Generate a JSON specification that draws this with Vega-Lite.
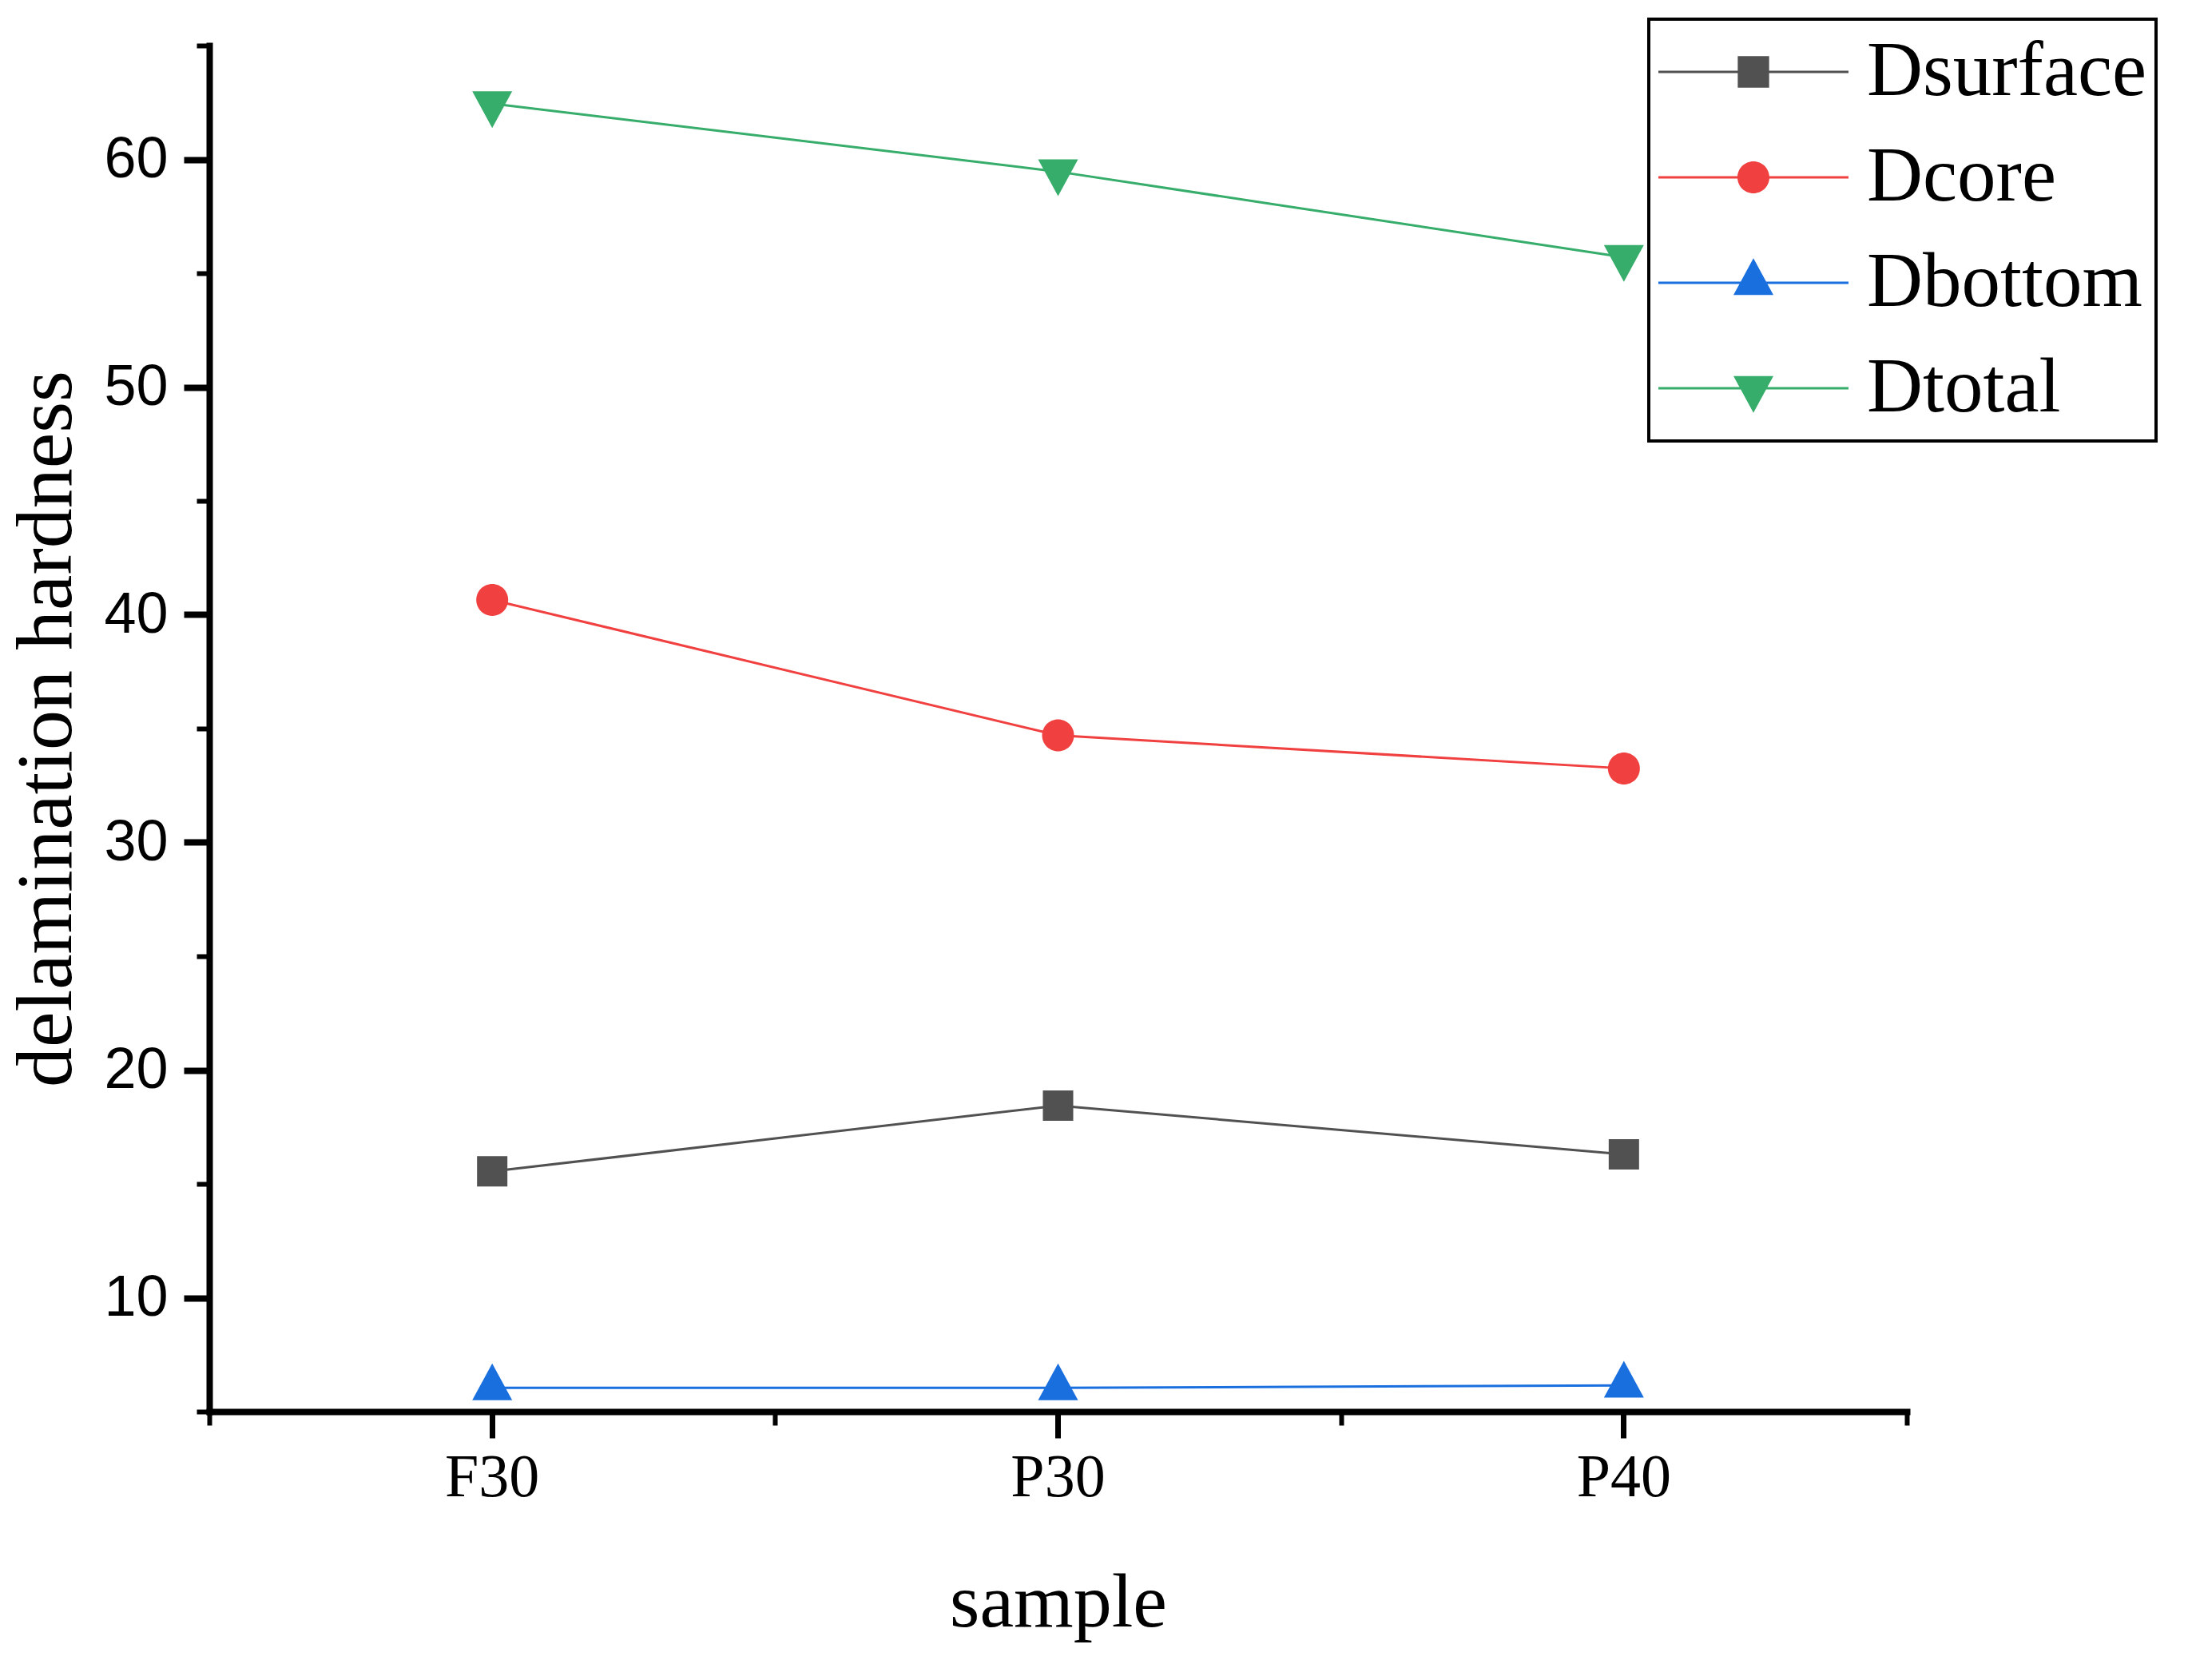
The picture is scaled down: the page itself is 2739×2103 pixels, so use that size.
{
  "$schema": "https://vega.github.io/schema/vega-lite/v6.json",
  "width": 2125,
  "height": 1710,
  "autosize": "none",
  "padding": {"left": 262, "top": 57, "right": 352, "bottom": 336},
  "background": "white",
  "data": {
    "values": [
      {"sample": "F30", "series": "Dsurface", "value": 15.55},
      {"sample": "P30", "series": "Dsurface", "value": 18.44},
      {"sample": "P40", "series": "Dsurface", "value": 16.3},
      {"sample": "F30", "series": "Dcore", "value": 40.65},
      {"sample": "P30", "series": "Dcore", "value": 34.7},
      {"sample": "P40", "series": "Dcore", "value": 33.25},
      {"sample": "F30", "series": "Dbottom", "value": 6.04},
      {"sample": "P30", "series": "Dbottom", "value": 6.04},
      {"sample": "P40", "series": "Dbottom", "value": 6.15},
      {"sample": "F30", "series": "Dtotal", "value": 62.45},
      {"sample": "P30", "series": "Dtotal", "value": 59.46},
      {"sample": "P40", "series": "Dtotal", "value": 55.7}
    ]
  },
  "layer": [
    {
      "mark": {"type": "line", "strokeWidth": 3},
      "encoding": {
        "x": {
          "field": "sample",
          "type": "nominal",
          "sort": ["F30", "P30", "P40"],
          "scale": {"type": "band", "paddingInner": 0, "paddingOuter": 0},
          "title": "sample",
          "axis": {
            "orient": "bottom",
            "labelAngle": 0,
            "labelFont": "Liberation Serif",
            "labelFontSize": 76,
            "labelColor": "black",
            "labelPadding": 12,
            "tickSize": 33,
            "tickWidth": 7,
            "tickColor": "black",
            "domainColor": "black",
            "domainWidth": 8,
            "domainCap": "square",
            "grid": false,
            "titleFont": "Liberation Serif",
            "titleFontSize": 96,
            "titleFontWeight": "normal",
            "titleColor": "black",
            "titlePadding": 72
          }
        },
        "y": {
          "field": "value",
          "type": "quantitative",
          "scale": {"domain": [5, 65], "nice": false, "zero": false},
          "title": "delamination hardness",
          "axis": {
            "orient": "left",
            "values": [10, 20, 30, 40, 50, 60],
            "labelFont": "Liberation Sans",
            "labelFontSize": 72,
            "labelColor": "black",
            "labelPadding": 20,
            "tickSize": 32,
            "tickWidth": 8,
            "tickColor": "black",
            "domainColor": "black",
            "domainWidth": 8,
            "domainCap": "square",
            "grid": false,
            "titleFont": "Liberation Serif",
            "titleFontSize": 100,
            "titleFontWeight": "normal",
            "titleColor": "black",
            "titlePadding": 20
          }
        },
        "color": {
          "field": "series",
          "type": "nominal",
          "scale": {
            "domain": ["Dsurface", "Dcore", "Dbottom", "Dtotal"],
            "range": ["#515151", "#F14040", "#1A6FDF", "#37AD6B"]
          },
          "legend": null
        }
      }
    },
    {
      "mark": {"type": "point", "filled": true, "opacity": 1, "size": 1600, "strokeWidth": 0},
      "encoding": {
        "x": {"field": "sample", "type": "nominal", "sort": ["F30", "P30", "P40"], "axis": null},
        "y": {"field": "value", "type": "quantitative", "axis": null},
        "color": {
          "field": "series",
          "type": "nominal",
          "scale": {
            "domain": ["Dsurface", "Dcore", "Dbottom", "Dtotal"],
            "range": ["#515151", "#F14040", "#1A6FDF", "#37AD6B"]
          },
          "legend": null
        },
        "shape": {
          "field": "series",
          "type": "nominal",
          "scale": {
            "domain": ["Dsurface", "Dcore", "Dbottom", "Dtotal"],
            "range": [
              "M-0.95,-0.95H0.95V0.95H-0.95Z",
              "M-1,0A1,1 0 1,1 1,0A1,1 0 1,1 -1,0Z",
              "M0,-1.533L1.25,0.767H-1.25Z",
              "M-1.25,-0.767H1.25L0,1.533Z"
            ]
          },
          "legend": null
        }
      }
    },
    {
      "mark": {"type": "point", "filled": true, "opacity": 0, "size": 56644},
      "encoding": {
        "x": {
          "field": "sample",
          "type": "nominal",
          "sort": ["F30", "P30", "P40"],
          "title": null,
          "axis": {
            "orient": "bottom",
            "tickBand": "extent",
            "labels": false,
            "domain": false,
            "grid": false,
            "tickSize": 17,
            "tickWidth": 6,
            "tickColor": "black"
          }
        },
        "y": {
          "field": "value",
          "type": "quantitative",
          "title": null,
          "axis": {
            "orient": "left",
            "values": [5, 15, 25, 35, 45, 55, 65],
            "labels": false,
            "domain": false,
            "grid": false,
            "tickSize": 16,
            "tickWidth": 6,
            "tickColor": "black"
          }
        },
        "color": {
          "field": "series",
          "type": "nominal",
          "scale": {
            "domain": ["Dsurface", "Dcore", "Dbottom", "Dtotal"],
            "range": ["#515151", "#F14040", "#1A6FDF", "#37AD6B"]
          },
          "legend": {
            "title": null,
            "orient": "none",
            "legendX": 1802,
            "legendY": -33,
            "padding": 11,
            "strokeColor": "black",
            "fillColor": "white",
            "symbolSize": 56644,
            "symbolOpacity": 1,
            "clipHeight": 110,
            "rowPadding": 22,
            "labelOffset": 22,
            "labelLimit": 600,
            "labelFont": "Liberation Serif",
            "labelFontSize": 97,
            "labelColor": "black",
            "encode": {
              "legend": {"update": {"strokeWidth": {"value": 4}}}
            }
          }
        },
        "shape": {
          "field": "series",
          "type": "nominal",
          "scale": {
            "domain": ["Dsurface", "Dcore", "Dbottom", "Dtotal"],
            "range": [
              "M-1,-0.0126H1V0.0126H-1Z M-0.165,-0.165H0.165V0.165H-0.165Z",
              "M-1,-0.0126H1V0.0126H-1Z M-0.168,0A0.168,0.168 0 1,1 0.168,0A0.168,0.168 0 1,1 -0.168,0Z",
              "M-1,-0.0126H1V0.0126H-1Z M0,-0.258L0.21,0.129H-0.21Z",
              "M-1,-0.0126H1V0.0126H-1Z M-0.21,-0.129H0.21L0,0.258Z"
            ]
          },
          "legend": {
            "title": null,
            "orient": "none",
            "legendX": 1802,
            "legendY": -33,
            "padding": 11,
            "strokeColor": "black",
            "fillColor": "white",
            "symbolSize": 56644,
            "symbolOpacity": 1,
            "clipHeight": 110,
            "rowPadding": 22,
            "labelOffset": 22,
            "labelLimit": 600,
            "labelFont": "Liberation Serif",
            "labelFontSize": 97,
            "labelColor": "black",
            "encode": {
              "legend": {"update": {"strokeWidth": {"value": 4}}}
            }
          }
        }
      }
    }
  ],
  "resolve": {
    "scale": {"color": "independent", "shape": "independent"},
    "axis": {"x": "independent", "y": "independent"}
  },
  "config": {
    "view": {"stroke": null}
  }
}
